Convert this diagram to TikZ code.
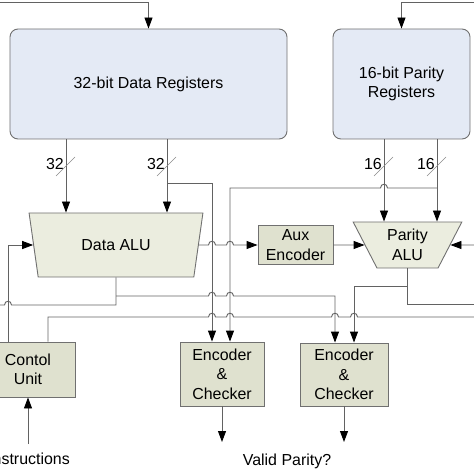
\documentclass[tikz,border=0pt]{standalone}
\usepackage{fontspec}
\setmainfont{Liberation Sans}
\usetikzlibrary{arrows.meta,shapes.geometric}
\definecolor{regfill}{HTML}{E4EAF5}
\definecolor{blkfill}{HTML}{DFE1CF}
\definecolor{alufill}{HTML}{EBEDDF}
\definecolor{bordergray}{HTML}{707070}
\definecolor{wiregray}{HTML}{626262}
\definecolor{slashgray}{HTML}{8A8A8A}
\newcommand{\figfont}{\fontsize{16}{19.5}\selectfont}
% hop over a vertical line at x=#1 on a horizontal line at y=#2 (drawn left to right)
\newcommand{\hopR}[2]{-- (#1-3.5,#2) .. controls (#1-3.5,#2-5) and (#1+3.5,#2-5) .. (#1+3.5,#2)}
\begin{document}
\begin{tikzpicture}[x=1bp,y=-1bp,
  reg/.style={draw=bordergray, fill=regfill, rounded corners=8bp, line width=0.9bp, align=center, font=\figfont, inner sep=0pt},
  blk/.style={draw=bordergray, fill=blkfill, line width=0.9bp, align=center, font=\figfont, inner sep=0pt},
  alu/.style={trapezium, trapezium stretches=true, shape border rotate=180, draw=bordergray, fill=alufill, line width=0.9bp, align=center, font=\figfont, inner sep=0pt},
  wire/.style={draw=wiregray, line width=0.9bp},
  arr/.style={wire, -{Triangle[length=11bp,width=8bp,color=black]}},
  rarr/.style={wire, {Triangle[length=11bp,width=8bp,color=black]}-},
  bus/.style={draw=slashgray, line width=0.6bp},
  buslbl/.style={font=\figfont, anchor=east, inner sep=0pt},
  txt/.style={font=\figfont, inner sep=0pt}
]
\useasboundingbox (0,0) rectangle (474,474);

% ---------- blocks ----------
\node[reg, minimum width=277bp, minimum height=110bp] (dreg) at (148.5,84) {32-bit Data Registers};
\node[reg, minimum width=137bp, minimum height=110bp] (preg) at (401.5,84) {16-bit Parity\\Registers};
\node[alu, minimum width=174bp, minimum height=64bp, trapezium left angle=70, trapezium right angle=70] (dalu) at (116,245) {Data ALU};
\node[alu, minimum width=109bp, minimum height=46bp, trapezium left angle=63, trapezium right angle=63] (palu) at (407.5,245) {Parity\\ALU};
\node[blk, minimum width=75bp, minimum height=39bp] (aux) at (295.5,245) {Aux\\Encoder};
\node[blk, minimum width=94bp, minimum height=55bp] (cu) at (28,369.5) {Contol\\Unit};
\node[blk, minimum width=84bp, minimum height=64bp] (ec1) at (222,374) {Encoder\\\&\\Checker};
\node[blk, minimum width=88bp, minimum height=63bp] (ec2) at (344,374.5) {Encoder\\\&\\Checker};
\node[txt, anchor=base east] (instr) at (70,464) {Instructions};
\node[txt, anchor=base] (valid) at (287,465) {Valid Parity?};

% ---------- column coordinates ----------
\coordinate (cA) at (66,0);
\coordinate (cB) at (167,0);
\coordinate (cC) at (212,0);
\coordinate (cD) at (230,0);
\coordinate (cE) at (335,0);
\coordinate (cF) at (354,0);
\coordinate (cG) at (384,0);
\coordinate (cH) at (437,0);
\coordinate (cL) at (8,0);
\coordinate (cM) at (48,0);

% ---------- free ends / junctions ----------
\coordinate (tl) at (0,2);
\coordinate (tr) at (474,2);
\coordinate (jB) at (167,183);
\coordinate (jH) at (437,188);
\coordinate (rin) at (474,245);
\coordinate (lo) at (0,305);
\coordinate (jP) at (116,296);
\coordinate (jQ) at (407.5,286);
\coordinate (ro) at (474,304);
\coordinate (ib) at (28,444);
\coordinate (o1) at (222,442);
\coordinate (o2) at (344,442);

% ---------- top inputs ----------
\draw[arr] (tl) -| (dreg.north);
\draw[arr] (tr) -| (preg.north);

% ---------- register buses ----------
\draw[arr] (dreg.south -| cA) -- (dalu.north -| cA);
\draw[arr] (dreg.south -| cB) -- (dalu.north -| cB);
\draw[arr] (preg.south -| cG) -- (palu.north -| cG);
\draw[arr] (preg.south -| cH) -- (palu.north -| cH);

\draw[bus] (56,176) -- (75,157);
\draw[bus] (157,176) -- (176,157);
\draw[bus] (374,176) -- (393,157);
\draw[bus] (427,176) -- (446,157);
\node[buslbl] (n32a) at (64,164) {32};
\node[buslbl] (n32b) at (165,164) {32};
\node[buslbl] (n16a) at (382,164) {16};
\node[buslbl] (n16b) at (435,164) {16};

% ---------- taps to encoder & checker 1 ----------
\draw[arr] (jB) -| (ec1.north -| cC);
\draw[rarr] (ec1.north -| cD) -- (230,188) \hopR{384}{188} -- (jH);

% ---------- ALU row ----------
\draw[arr] (dalu.east) \hopR{212}{245} \hopR{230}{245} -- (aux.west);
\draw[arr] (aux.east) -- (palu.west);
\draw[arr] (rin) -- (palu.east);
\draw[arr] (cu.north -| cL) |- (dalu.west);

% ---------- ALU outputs ----------
\draw[wire] (lo) \hopR{8}{305} -- (116,305) -- (dalu.south);
\draw[arr] (jP) \hopR{212}{296} \hopR{230}{296} -- (335,296) -- (ec2.north -| cE);
\draw[wire] (palu.south) |- (ro);
\draw[arr] (jQ) -| (ec2.north -| cF);

% ---------- control unit bus ----------
\draw[wire] (cu.north -| cM) -- (48,317) \hopR{212}{317} \hopR{230}{317} \hopR{335}{317} \hopR{354}{317} -- (474,317);

% ---------- bottom ----------
\draw[arr] (ib) -- (cu.south);
\draw[arr] (ec1.south) -- (o1);
\draw[arr] (ec2.south) -- (o2);
\end{tikzpicture}
\end{document}
